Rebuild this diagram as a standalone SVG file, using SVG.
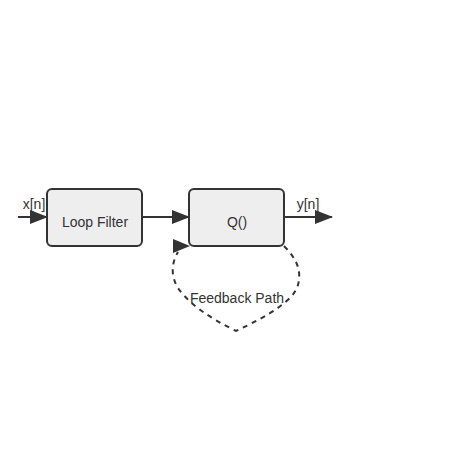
<svg xmlns="http://www.w3.org/2000/svg" width="474" height="474" viewBox="0 0 474 474">
<style>
.box{fill:#eeeeee;stroke:#333333;stroke-width:2}
.edge{fill:none;stroke:#333333;stroke-width:2}
.dash{fill:none;stroke:#333333;stroke-width:2;stroke-dasharray:5,5}
.head{fill:#333333}
text{font-family:"Liberation Sans",Arial,sans-serif;font-size:14px;fill:#333333}
</style>
<defs>
<marker id="arr" markerWidth="18" markerHeight="14" refX="17" refY="7" orient="auto" markerUnits="userSpaceOnUse">
<path d="M0,0 L18,7 L0,14 Z" fill="#333333"/>
</marker>
</defs>
<rect width="474" height="474" fill="#ffffff"/>
<g id="connectors">
<line class="edge" x1="18" y1="217" x2="47" y2="217" marker-end="url(#arr)"/>
<line class="edge" x1="142" y1="217" x2="189" y2="217" marker-end="url(#arr)"/>
<line class="edge" x1="284" y1="217" x2="332" y2="217" marker-end="url(#arr)"/>
<path class="dash" d="M284,246 C296,258 302,270 298,285 C294,300 270,315 236,331 C210,318 190,305 178,288 C170,275 172,262 178,252"/>
<path class="head" d="M173,239 L190,246 L173,253 Z"/>
<text x="34" y="209" text-anchor="middle">x[n]</text>
<text x="308" y="209" text-anchor="middle">y[n]</text>
<text x="237" y="303" text-anchor="middle">Feedback Path</text>
</g>
<g id="loopfilter">
<rect class="box" x="47" y="189" width="95" height="57" rx="5"/>
<text x="95" y="227" text-anchor="middle">Loop Filter</text>
</g>
<g id="quantizer">
<rect class="box" x="189" y="189" width="95" height="57" rx="5"/>
<text x="237" y="227" text-anchor="middle">Q()</text>
</g>
</svg>
